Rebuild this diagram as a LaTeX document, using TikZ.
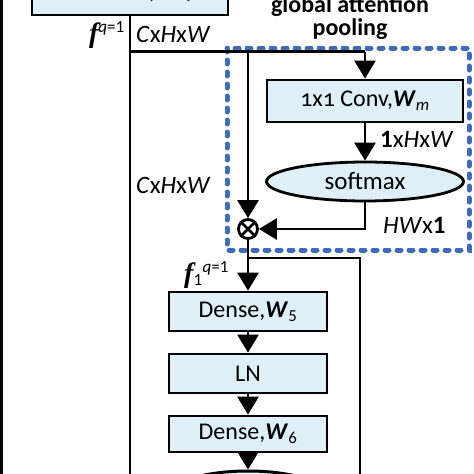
\documentclass[tikz,border=0pt]{standalone}
\usepackage{fontspec}
\setmainfont{Carlito}
\newfontfamily\serifbi{Liberation Serif}
\usetikzlibrary{arrows.meta,shapes.geometric}
\definecolor{boxfill}{RGB}{222,239,247}
\definecolor{gapblue}{RGB}{63,108,180}
\tikzset{
  box/.style={draw, line width=2.8pt, fill=boxfill, minimum width=158pt, minimum height=39pt, inner sep=0pt, font=\fontsize{24}{28}\selectfont},
  conn/.style={line width=2.8pt},
  arr/.style={line width=2.8pt, -{Triangle[length=18pt,width=21pt]}},
  lbl/.style={font=\fontsize{25}{28}\selectfont, inner sep=0pt},
  gapbox/.style={draw=gapblue, line width=5pt, dash pattern=on 4pt off 8pt, line cap=round},
  titlefont/.style={font=\bfseries\fontsize{24}{26}\selectfont, inner sep=0pt}
}
\begin{document}
\begin{tikzpicture}[x=1pt,y=-1pt]
\useasboundingbox (0,0) rectangle (474,474);
\clip (0,0) rectangle (474,474);
% dashed group
\draw[gapbox] (227,48) rectangle (469,250);
% nodes
\node[box, minimum width=196pt, minimum height=46pt, font=\bfseries\fontsize{24}{28}\selectfont] (conv4) at (130,-8) {2D Conv,\,\textit{W}\textsubscript{4}};
\node[box, minimum width=196pt, minimum height=42pt] (convm) at (365,101) {{\addfontfeatures{Numbers=OldStyle}1x1} Conv,\textbf{\textit{W}}\textsubscript{\textit{m}}};
\node[ellipse, draw, line width=2.8pt, fill=boxfill, minimum width=197pt, minimum height=39pt, inner sep=0pt, font=\fontsize{25}{28}\selectfont] (soft) at (365,181.5) {softmax};
\node[circle, draw, line width=2.8pt, minimum size=19pt, inner sep=0pt] (mul) at (248,229) {};
\draw[line width=2.5pt] (mul.north west) -- (mul.south east) (mul.north east) -- (mul.south west);
\node[box] (d5) at (248,311.5) {Dense,\textbf{\textit{W}}\textsubscript{5}};
\node[box] (ln) at (248,373.5) {LN};
\node[box, minimum height=36pt] (d6) at (248,434) {Dense,\textbf{\textit{W}}\textsubscript{6}};
\node[ellipse, draw, line width=3pt, fill=boxfill, minimum width=160pt, minimum height=50pt] (out) at (248,496) {};
% labels
\node[titlefont, anchor=base] (t1) at (350,12) {global attention};
\node[titlefont, anchor=base] (t2) at (350,35) {pooling};
\node[lbl, anchor=base east] (f0) at (125,42) {{\serifbi\bfseries\itshape\fontsize{28}{28}\selectfont f}\textsuperscript{\fontsize{17}{17}\selectfont\textit{q}=1}};
\node[lbl, anchor=base west] (s0) at (136,42) {\textit{C}x\textit{H}x\textit{W}};
\node[lbl, anchor=base west] (s1) at (136,193) {\textit{C}x\textit{H}x\textit{W}};
\node[lbl, anchor=base west] (s2) at (380,147) {\textbf{1}x\textit{H}x\textit{W}};
\node[lbl, anchor=base west] (s3) at (383,233) {\textit{HW}x\textbf{1}};
\node[lbl, anchor=base west] (f1) at (184,282) {{\serifbi\bfseries\itshape\fontsize{28}{28}\selectfont f}\textsubscript{\fontsize{17}{17}\selectfont 1}\textsuperscript{\fontsize{17}{17}\selectfont\textit{q}=1}};
% connectors
\coordinate (ltop) at (1.5,-5);
\coordinate (lbot) at (1.5,480);
\draw[conn] (ltop) -- (lbot);
\coordinate (mbot) at (130,480);
\coordinate (split) at (130,51.5);
\coordinate (tr) at (365,51.5);
\coordinate (br) at (248,51.5);
\draw[conn] (conv4.south) -- (mbot);
\draw[conn] (split) -- (tr);
\draw[arr] (tr) -- (convm.north);
\draw[arr] (br) -- (mul.north);
\draw[arr] (convm.south) -- (soft.north);
\draw[arr] (soft.south) |- (mul.east);
\draw[arr] (mul.south) -- (d5.north);
\coordinate (r1) at (248,258);
\coordinate (r2) at (360,258);
\coordinate (r3) at (360,480);
\draw[conn] (r1) -- (r2) -- (r3);
\draw[arr] (d5) -- (ln);
\draw[arr] (ln) -- (d6);
\draw[arr] (d6) -- (out);
\end{tikzpicture}
\end{document}
